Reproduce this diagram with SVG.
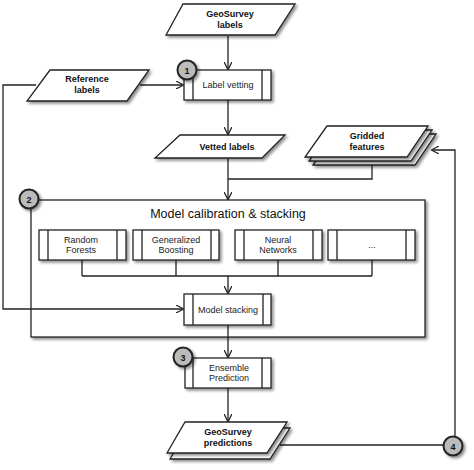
<svg xmlns="http://www.w3.org/2000/svg" width="474" height="470" viewBox="0 0 474 470">
<defs>
<filter id="sh" x="-20%" y="-20%" width="150%" height="150%">
<feGaussianBlur in="SourceAlpha" stdDeviation="1.5"/>
<feOffset dx="2" dy="2" result="b"/>
<feComponentTransfer><feFuncA type="linear" slope="0.45"/></feComponentTransfer>
<feMerge><feMergeNode/><feMergeNode in="SourceGraphic"/></feMerge>
</filter>
<marker id="ah" viewBox="0 0 10 10" refX="9" refY="5" markerWidth="8" markerHeight="8" markerUnits="userSpaceOnUse" orient="auto">
<path d="M0,0 L10,5 L0,10" fill="none" stroke="#222" stroke-width="1.6"/>
</marker>
</defs>
<style>
.s{fill:#fff;stroke:#222;stroke-width:1.3;filter:url(#sh)}
.l{fill:none;stroke:#222;stroke-width:1.3}
.c{fill:none;stroke:#222;stroke-width:1.3}
.ca{fill:none;stroke:#222;stroke-width:1.3;marker-end:url(#ah)}
.b{font-family:"Liberation Sans",Arial,sans-serif;font-size:9px;font-weight:bold;fill:#111;text-anchor:middle}
.t{font-family:"Liberation Sans",Arial,sans-serif;font-size:9px;fill:#222;text-anchor:middle}
.n{fill:#bbb;stroke:#222;stroke-width:2;filter:url(#sh)}
.nt{font-family:"Liberation Sans",Arial,sans-serif;font-size:9px;font-weight:bold;fill:#111;text-anchor:middle}
</style>
<rect width="474" height="470" fill="#fff"/>

<g id="model-calibration">
<rect class="s" x="31" y="200" width="394" height="137"/>
<text x="228" y="218" font-family="Liberation Sans,Arial,sans-serif" font-size="12.5" fill="#111" text-anchor="middle">Model calibration &amp; stacking</text>
</g>

<g id="connectors">
<path class="ca" d="M228,36 V69"/>
<path class="ca" d="M140,85 H183"/>
<path class="ca" d="M36,85 H3 V309 H183"/>
<path class="ca" d="M228,100 V134"/>
<path class="c" d="M228,158 V179"/>
<path class="c" d="M372,158 V179 H228"/>
<path class="ca" d="M228,179 V199"/>
<path class="c" d="M82,260 V276 M176,260 V276 M278,260 V276 M372,260 V276 M82,276 H372"/>
<path class="ca" d="M228,276 V293"/>
<path class="ca" d="M228,325 V357"/>
<path class="ca" d="M228,388 V421"/>
<path class="c" d="M280,445 H443"/>
<path class="ca" d="M455,436 V150 H432"/>
</g>

<g id="geosurvey-labels">
<polygon class="s" points="183,4 295,4 275,35 166,35"/>
<text class="b" x="230" y="17">GeoSurvey</text>
<text class="b" x="230" y="28">labels</text>
</g>

<g id="reference-labels">
<polygon class="s" points="50,70 149,70 127,101 27,101"/>
<text class="b" x="87" y="82">Reference</text>
<text class="b" x="87" y="93">labels</text>
</g>

<g id="label-vetting">
<rect class="s" x="184" y="70" width="87" height="30"/>
<path class="l" d="M193,70 V100 M262,70 V100"/>
<text class="t" x="228" y="88">Label vetting</text>
<circle class="n" cx="187" cy="70" r="9.5"/>
<text class="nt" x="187" y="73.5">1</text>
</g>

<g id="vetted-labels">
<polygon class="s" points="180,135 285,135 262,158 155,158"/>
<text class="b" x="227" y="150">Vetted labels</text>
</g>

<g id="gridded-features">
<polygon class="s" points="335,134 436,134 415,165 313,165"/>
<polygon class="s" points="331,130 432,130 411,161 309,161"/>
<polygon class="s" points="327,126 428,126 407,157 305,157"/>
<text class="b" x="367" y="139">Gridded</text>
<text class="b" x="367" y="150">features</text>
</g>

<g id="node-2">
<circle class="n" cx="29" cy="199" r="9.5"/>
<text class="nt" x="29" y="202.5">2</text>
</g>

<g id="random-forests">
<rect class="s" x="39" y="230" width="87" height="30"/>
<path class="l" d="M48,230 V260 M117,230 V260"/>
<text class="t" x="81" y="243">Random</text>
<text class="t" x="81" y="253">Forests</text>
</g>

<g id="generalized-boosting">
<rect class="s" x="133" y="230" width="86" height="30"/>
<path class="l" d="M142,230 V260 M211,230 V260"/>
<text class="t" x="176" y="243">Generalized</text>
<text class="t" x="176" y="253">Boosting</text>
</g>

<g id="neural-networks">
<rect class="s" x="235" y="230" width="87" height="30"/>
<path class="l" d="M244,230 V260 M313,230 V260"/>
<text class="t" x="278" y="243">Neural</text>
<text class="t" x="278" y="253">Networks</text>
</g>

<g id="other-models">
<rect class="s" x="328" y="230" width="87" height="30"/>
<path class="l" d="M337,230 V260 M406,230 V260"/>
<text class="t" x="372" y="248">...</text>
</g>

<g id="model-stacking">
<rect class="s" x="184" y="294" width="87" height="31"/>
<path class="l" d="M193,294 V325 M263,294 V325"/>
<text class="t" x="228" y="313">Model stacking</text>
</g>

<g id="ensemble-prediction">
<rect class="s" x="185" y="358" width="86" height="30"/>
<path class="l" d="M193,358 V388 M262,358 V388"/>
<text class="t" x="229" y="371">Ensemble</text>
<text class="t" x="229" y="381">Prediction</text>
<circle class="n" cx="183" cy="357" r="9.5"/>
<text class="nt" x="183" y="360.5">3</text>
</g>

<g id="geosurvey-predictions">
<polygon class="s" points="188,428 290,428 270,459 170,459"/>
<polygon class="s" points="185,422 287,422 267,453 167,453"/>
<text class="b" x="228" y="435">GeoSurvey</text>
<text class="b" x="228" y="446">predictions</text>
</g>

<g id="node-4">
<circle class="n" cx="453" cy="446" r="9.5"/>
<text class="nt" x="453" y="449.5">4</text>
</g>
</svg>
